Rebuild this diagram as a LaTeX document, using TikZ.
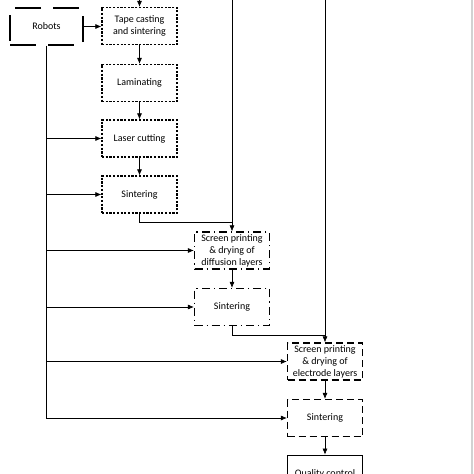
\documentclass[tikz,border=0pt]{standalone}
\usepackage{fontspec}
\setmainfont{Carlito}
\usetikzlibrary{arrows.meta}

\tikzset{
  paso/.style={rectangle, minimum width=75pt, minimum height=37pt, align=center,
    font=\fontsize{10}{12}\selectfont, line width=1.3pt, inner sep=1pt},
  punteado/.style={paso, draw, dash pattern=on 2.2pt off 1.5pt},
  rayapunto/.style={paso, draw, dash pattern=on 8pt off 4pt on 1.2pt off 4pt},
  rayado/.style={paso, draw, dash pattern=on 7pt off 4pt},
  robotbox/.style={paso, draw, minimum width=73pt, line width=1.4pt, dash pattern=on 26pt off 12pt},
  solido/.style={paso, draw, line width=0.8pt},
  flecha/.style={-{Latex[length=6pt,width=5pt]}, line width=0.6pt},
}

\begin{document}
\begin{tikzpicture}[x=1pt, y=-1pt]
        \useasboundingbox (0,0) rectangle (474,474);

        % Borde gris de la derecha
        \draw[gray!35, line width=1.5pt] (472,0) -- (472,474);

        % Cajas
        \node[robotbox] (robots) at (46.5, 26.5) {Robots};
        \node[punteado] (tape) at (139.5, 26) {Tape casting\\and sintering};
        \node[punteado] (lam) at (139.5, 83) {Laminating};
        \node[punteado] (laser) at (139.5, 138.5) {Laser cutting};
        \node[punteado] (sint) at (139.5, 194.5) {Sintering};
        \node[rayapunto] (diff) at (232, 250.5) {Screen printing\\\& drying of\\diffusion layers};
        \node[rayapunto] (sintb) at (232, 307) {Sintering};
        \node[rayado] (elec) at (325, 361.5) {Screen printing\\\& drying of\\electrode layers};
        \node[rayado] (sintc) at (325, 418) {Sintering};
        \node[solido] (qc) at (325, 473.5) {Quality control};

        % Entradas desde arriba
        \coordinate (in1) at (139.5, 0);
        \coordinate (in2) at (232, 0);
        \coordinate (in3) at (325, 0);
        \coordinate (j1) at (232, 222);
        \coordinate (j2) at (325, 335);
        \draw[flecha] (in1) -- (tape.north);
        \draw[flecha] (in2) -- (diff.north);
        \draw[flecha] (in3) -- (elec.north);

        % Flechas entre pasos
        \draw[flecha] (robots.east) -- (robots.east -| tape.west);
        \draw[flecha] (tape) -- (lam);
        \draw[flecha] (lam) -- (laser);
        \draw[flecha] (laser) -- (sint);
        \draw (sint.south) |- (j1);
        \draw[flecha] (diff) -- (sintb);
        \draw (sintb.south) |- (j2);
        \draw[flecha] (elec) -- (sintc);
        \draw[flecha] (sintc) -- (qc);

        % Robots a cada paso
        \draw[flecha] (robots.south) |- (sintc.west);
        \draw[flecha] (robots.south |- laser.west) -- (laser.west);
        \draw[flecha] (robots.south |- sint.west) -- (sint.west);
        \draw[flecha] (robots.south |- diff.west) -- (diff.west);
        \draw[flecha] (robots.south |- sintb.west) -- (sintb.west);
        \draw[flecha] (robots.south |- elec.west) -- (elec.west);

    \end{tikzpicture}
\end{document}
